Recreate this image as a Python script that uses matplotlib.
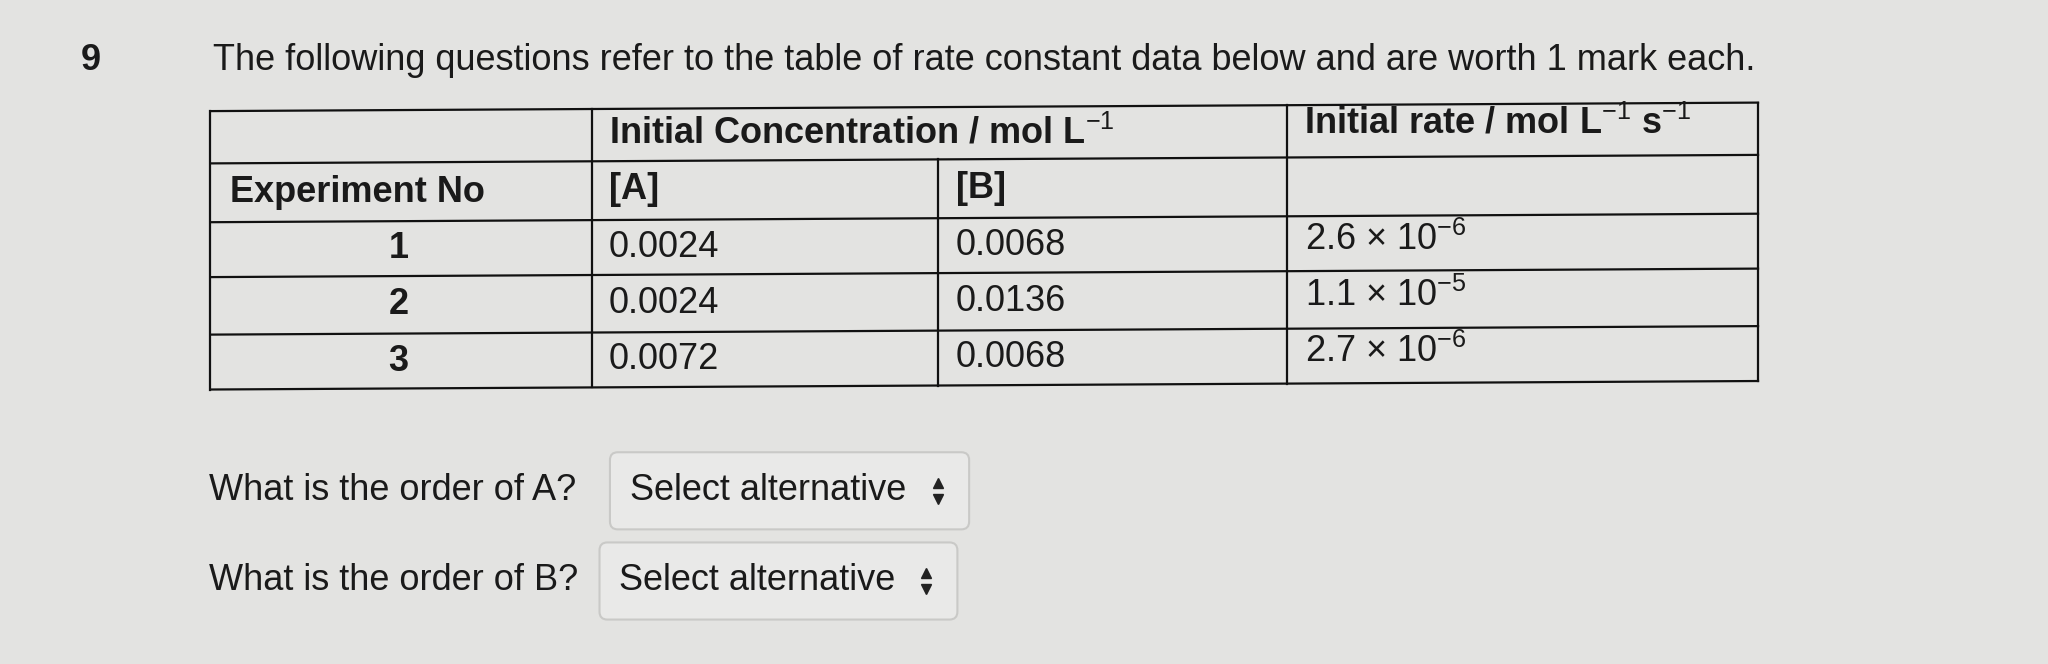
import matplotlib
matplotlib.use('Agg')
import matplotlib.pyplot as plt
from matplotlib.patches import FancyBboxPatch

plt.rcParams['font.family'] = ['Liberation Sans', 'DejaVu Sans']
plt.rcParams['mathtext.fontset'] = 'custom'
plt.rcParams['mathtext.rm'] = 'Liberation Sans'
plt.rcParams['mathtext.bf'] = 'Liberation Sans:bold'

# table content
header_top = ['', 'Initial Concentration / mol L$^{-1}$', 'Initial rate / mol L$^{-1}$ s$^{-1}$']
header_sub = ['Experiment No', '[A]', '[B]', '']
experiments = ['1', '2', '3']
conc_a = ['0.0024', '0.0024', '0.0072']
conc_b = ['0.0068', '0.0136', '0.0068']
rates = ['2.6 × 10$^{-6}$', '1.1 × 10$^{-5}$', '2.7 × 10$^{-6}$']
questions = ['What is the order of A?', 'What is the order of B?']

# geometry in reference pixel units (1568 x 508 view)
col_x = [161, 453, 718, 985, 1346]
row_y = [85, 125, 170, 212, 256, 298]   # at left edge
slope = -6.5 / 1185                      # photo is slightly tilted

def yy(x, y):
    return y + (x - col_x[0]) * slope

fig = plt.figure(figsize=(20.48, 6.64), dpi=100)
fig.patch.set_facecolor('#e3e3e1')
ax = fig.add_axes([0, 0, 1, 1])
ax.set_xlim(0, 1568)
ax.set_ylim(508, 0)
ax.axis('off')

lw = 1.6
# horizontal lines
for y in row_y:
    ax.plot([col_x[0], col_x[-1]], [yy(col_x[0], y), yy(col_x[-1], y)], color='#111', lw=lw)
# vertical lines
for i, x in enumerate(col_x):
    y0 = row_y[1] if i == 2 else row_y[0]
    ax.plot([x, x], [yy(x, y0), yy(x, row_y[-1])], color='#111', lw=lw)

fs = 26
def cell_text(x, y, s, ha='left', bold=False):
    ax.text(x, yy(x, y), s, ha=ha, va='center', fontsize=fs,
            fontweight='bold' if bold else 'normal', color='#1a1a1a')

ax.text(62, 46, '9', fontsize=fs, fontweight='bold', va='center', color='#1a1a1a')
ax.text(163, 46, 'The following questions refer to the table of rate constant data below and are worth 1 mark each.',
        fontsize=fs, va='center', color='#1a1a1a')

cell_text(466, 104, header_top[1], bold=True)
cell_text(998, 99, header_top[2], bold=True)
cell_text(176, 147, header_sub[0], bold=True)
cell_text(466, 147, header_sub[1], bold=True)
cell_text(732, 147, header_sub[2], bold=True)
for k in range(3):
    yc = (row_y[k + 2] + row_y[k + 3]) / 2
    cell_text(305, yc, experiments[k], ha='center', bold=True)
    cell_text(466, yc, conc_a[k])
    cell_text(732, yc, conc_b[k])
    cell_text(999, yc - 3, rates[k])

# questions with dropdowns
boxes = [(467, 346, 275, 59), (459, 415, 274, 59)]
for q, (bx, by, bw, bh) in zip(questions, boxes):
    ax.text(160, by + bh / 2, q, fontsize=fs, va='center', color='#1a1a1a')
    ax.add_patch(FancyBboxPatch((bx, by), bw, bh, boxstyle='round,pad=0,rounding_size=6',
                                fc='#e9e9e8', ec='#c9c9c7', lw=1.5))
    ax.text(bx + 15, by + bh / 2, 'Select alternative', fontsize=fs, va='center', color='#1a1a1a')
    ax.plot([bx + bw - 24], [by + bh / 2 - 6], marker='^', ms=7, color='#222')
    ax.plot([bx + bw - 24], [by + bh / 2 + 6], marker='v', ms=7, color='#222')

fig.savefig('out.png', dpi=100, facecolor=fig.get_facecolor())
